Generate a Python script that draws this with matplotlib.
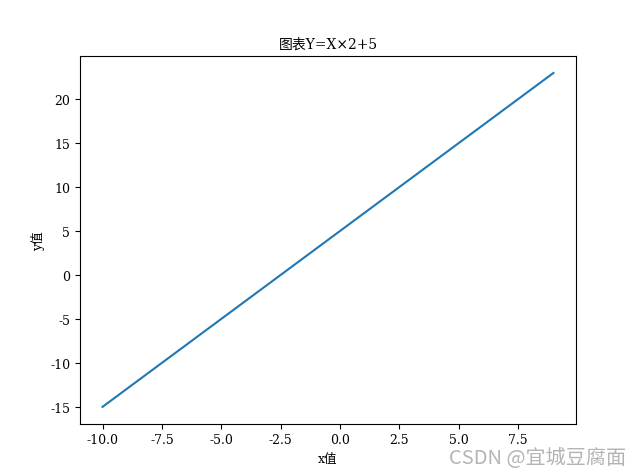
import matplotlib
matplotlib.use('Agg')
import matplotlib.pyplot as plt

plt.rcParams['font.family'] = ['DejaVu Serif', 'Noto Sans CJK SC']
plt.rcParams['axes.unicode_minus'] = False

# data: y = x * 2 + 5
x_vals = [-10, -9, -8, -7, -6, -5, -4, -3, -2, -1, 0, 1, 2, 3, 4, 5, 6, 7, 8, 9]
y_vals = [-15, -13, -11, -9, -7, -5, -3, -1, 1, 3, 5, 7, 9, 11, 13, 15, 17, 19, 21, 23]

fig = plt.figure(figsize=(6.4, 4.77), dpi=100)
ax = fig.add_subplot(111)
ax.plot(x_vals, y_vals, color='#1f77b4')

ax.set_title('图表Y=X×2+5', fontsize=10)
ax.set_xlabel('x值', fontsize=9)
ax.set_ylabel('y值', fontsize=9)
ax.tick_params(labelsize=9)

# watermark from the screenshot
fig.text(0.978, 0.038, 'CSDN @宜城豆腐面', ha='right', va='center',
         fontsize=14.5, color='#b4b4b4', family=['Noto Sans CJK SC', 'DejaVu Sans'])

fig.savefig('out.png', dpi=100)
